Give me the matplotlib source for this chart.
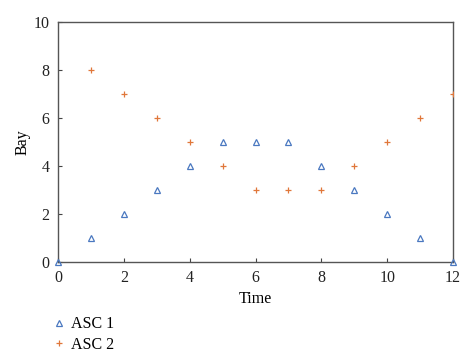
#!/usr/bin/env python

import matplotlib
matplotlib.use("Agg")
import matplotlib.pyplot as plt

time = list(range(13))
asc1 = [0, 1, 2, 3, 4, 5, 5, 5, 4, 3, 2, 1, 0]
asc2_time = list(range(1, 13))
asc2 = [8, 7, 6, 5, 4, 3, 3, 3, 4, 5, 6, 7]

plt.rcParams["font.family"] = ["Liberation Serif", "DejaVu Serif"]
plt.rcParams["font.size"] = 11.5

fig = plt.figure(figsize=(4.74, 3.63), dpi=100)
ax = fig.add_axes([0.1224, 0.2782, 0.8333, 0.6612])

ax.plot(time, asc1, linestyle="none", marker="^", markersize=4.5,
        markerfacecolor="none", markeredgecolor="#4a78c0",
        markeredgewidth=0.9, label="ASC 1", clip_on=False, zorder=5)
ax.plot(asc2_time, asc2, linestyle="none", marker="+", markersize=5,
        color="#e0773a", markeredgewidth=0.9, label="ASC 2", zorder=5)

ax.set_xlim(0, 12)
ax.set_ylim(0, 10)
ax.set_xticks(range(0, 13, 2))
ax.set_yticks(range(0, 11, 2))
ax.tick_params(direction="in", length=3, width=0.8, colors="#444444",
               labelcolor="#222222", top=False, right=False)
ax.tick_params(axis="x", pad=6)
ax.tick_params(axis="y", pad=6)
for s in ax.spines.values():
    s.set_color("#555555")
    s.set_linewidth(1.0)

ax.set_xlabel("Time", labelpad=3)
ax.set_ylabel("Bay", labelpad=2)

fig.legend(loc="lower left", bbox_to_anchor=(0.085, -0.012), frameon=False,
           handlelength=0.6, handletextpad=0.4, labelspacing=0.3,
           fontsize=11.5)

fig.savefig("out.png", dpi=100)
